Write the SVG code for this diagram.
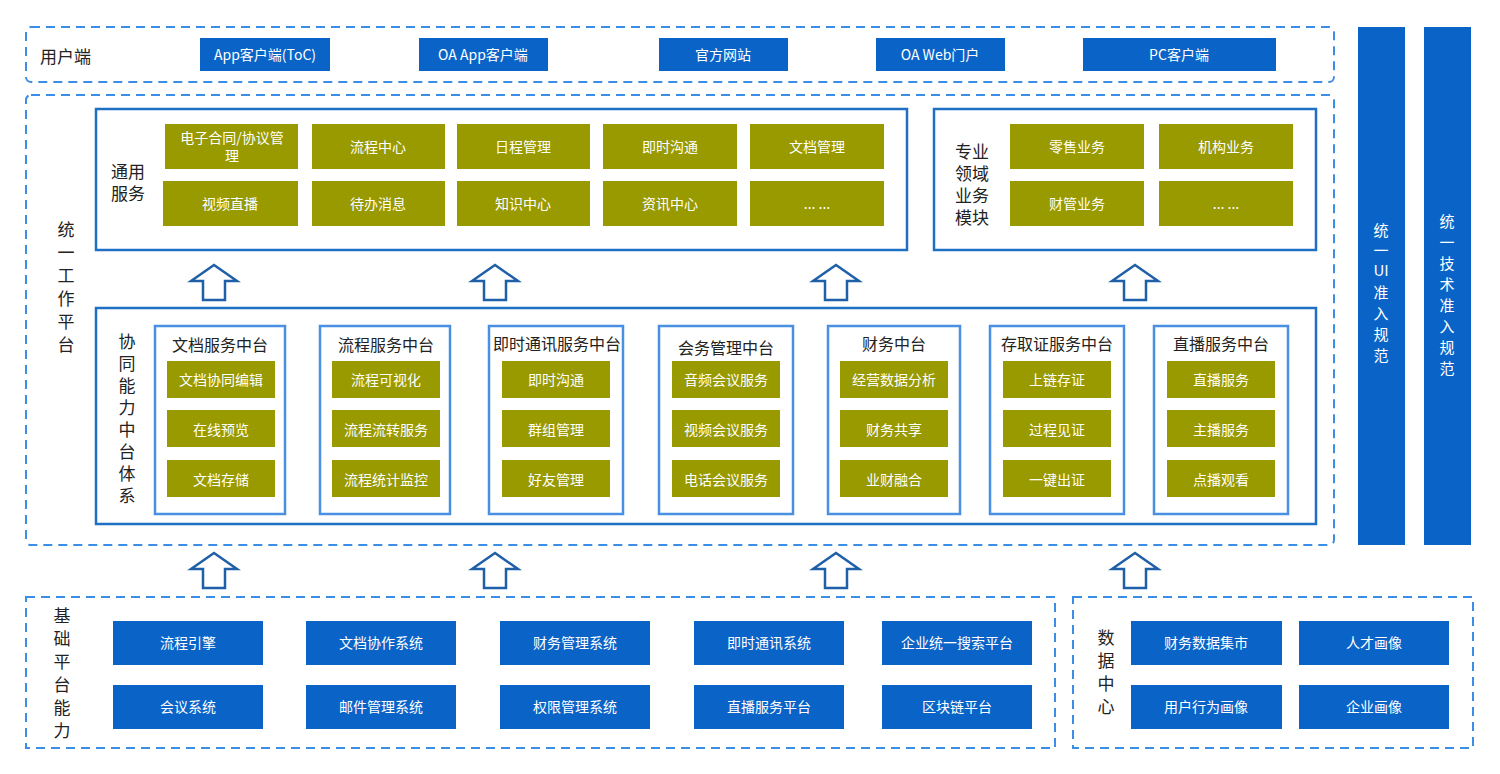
<svg xmlns="http://www.w3.org/2000/svg" width="1500" height="774" viewBox="0 0 1500 774">
<defs><style>
text{font-family:"Noto Sans CJK SC","Noto Sans",sans-serif}
.dash{fill:#fff;stroke:#3a8ee6;stroke-width:2;stroke-dasharray:9 6}
.frame{fill:#fff;stroke:#1f6fc4;stroke-width:2.5}
.sub{fill:#fff;stroke:#4a90e2;stroke-width:2.5}
.bl{fill:#0a64c8}
.ol{fill:#999900}
.wt{fill:#fff;font-size:14px;text-anchor:middle}
.lb{fill:#222;font-size:17px}
.lbm{fill:#222;font-size:17px;text-anchor:middle}
.st{fill:#222;font-size:16px;text-anchor:middle}
.vt{fill:#fff;font-size:15px;text-anchor:middle}
.arr{fill:#fff;stroke:#1f5fa8;stroke-width:2.5}
</style>
<path id="ar" class="arr" d="M-23,16 L0,0 L23,16 L11,16 L11,35 L-11,35 L-11,16 Z"/>
</defs>
<rect width="1500" height="774" fill="#fff"/>
<g id="user">
<rect class="dash" x="26" y="27" width="1308" height="55" rx="5"/>
<text class="lb" x="40" y="63">用户端</text>
<rect class="bl" x="200" y="38" width="130" height="33"/><text class="wt" x="265" y="60">App客户端(ToC)</text>
<rect class="bl" x="419" y="38" width="129" height="33"/><text class="wt" x="483" y="60">OA App客户端</text>
<rect class="bl" x="659" y="38" width="129" height="33"/><text class="wt" x="723" y="60">官方网站</text>
<rect class="bl" x="876" y="38" width="129" height="33"/><text class="wt" x="940" y="60">OA Web门户</text>
<rect class="bl" x="1083" y="38" width="193" height="33"/><text class="wt" x="1179" y="60">PC客户端</text>
</g>
<g id="platform">
<rect class="dash" x="26" y="95" width="1308" height="450" rx="5"/>
<text class="lbm" x="66" y="236">统</text><text class="lbm" x="66" y="259">一</text><text class="lbm" x="66" y="282">工</text><text class="lbm" x="66" y="305">作</text><text class="lbm" x="66" y="328">平</text><text class="lbm" x="66" y="351">台</text>
</g>
<g id="general">
<rect class="frame" x="96" y="109" width="811" height="141"/>
<text class="lb" x="111" y="178">通用</text><text class="lb" x="111" y="200">服务</text>
<rect class="ol" x="165" y="124" width="133" height="45"/><text class="wt" x="232" y="143">电子合同/协议管</text><text class="wt" x="232" y="161">理</text>
<rect class="ol" x="312" y="124" width="133" height="45"/><text class="wt" x="378" y="152">流程中心</text>
<rect class="ol" x="457" y="124" width="133" height="45"/><text class="wt" x="523" y="152">日程管理</text>
<rect class="ol" x="603" y="124" width="134" height="45"/><text class="wt" x="670" y="152">即时沟通</text>
<rect class="ol" x="750" y="124" width="134" height="45"/><text class="wt" x="817" y="152">文档管理</text>
<rect class="ol" x="163" y="181" width="135" height="45"/><text class="wt" x="230" y="209">视频直播</text>
<rect class="ol" x="312" y="181" width="133" height="45"/><text class="wt" x="378" y="209">待办消息</text>
<rect class="ol" x="457" y="181" width="133" height="45"/><text class="wt" x="523" y="209">知识中心</text>
<rect class="ol" x="603" y="181" width="134" height="45"/><text class="wt" x="670" y="209">资讯中心</text>
<rect class="ol" x="750" y="181" width="134" height="45"/><text class="wt" x="817" y="209">... ...</text>
</g>
<g id="special">
<rect class="frame" x="934" y="109" width="382" height="141"/>
<text class="lbm" x="972" y="158">专业</text><text class="lbm" x="972" y="180">领域</text><text class="lbm" x="972" y="202">业务</text><text class="lbm" x="972" y="224">模块</text>
<rect class="ol" x="1010" y="124" width="134" height="45"/><text class="wt" x="1077" y="152">零售业务</text>
<rect class="ol" x="1159" y="124" width="134" height="45"/><text class="wt" x="1226" y="152">机构业务</text>
<rect class="ol" x="1010" y="181" width="134" height="45"/><text class="wt" x="1077" y="209">财管业务</text>
<rect class="ol" x="1159" y="181" width="134" height="45"/><text class="wt" x="1226" y="209">... ...</text>
</g>
<g id="connectors">
<use href="#ar" x="214" y="265"/><use href="#ar" x="495" y="265"/><use href="#ar" x="836" y="265"/><use href="#ar" x="1135" y="265"/>
<use href="#ar" x="214" y="553"/><use href="#ar" x="495" y="553"/><use href="#ar" x="836" y="553"/><use href="#ar" x="1135" y="553"/>
</g>
<g id="middle">
<rect class="frame" x="96" y="308" width="1220" height="216"/>
<text class="lbm" x="127" y="348">协</text><text class="lbm" x="127" y="370">同</text><text class="lbm" x="127" y="392">能</text><text class="lbm" x="127" y="414">力</text><text class="lbm" x="127" y="436">中</text><text class="lbm" x="127" y="458">台</text><text class="lbm" x="127" y="480">体</text><text class="lbm" x="127" y="502">系</text>
</g>
<g id="m1"><rect class="sub" x="155" y="326" width="130" height="188"/><text class="st" x="220" y="351">文档服务中台</text>
<rect class="ol" x="167" y="361" width="108" height="37"/><text class="wt" x="221" y="385">文档协同编辑</text>
<rect class="ol" x="167" y="410" width="108" height="37"/><text class="wt" x="221" y="435">在线预览</text>
<rect class="ol" x="167" y="460" width="108" height="37"/><text class="wt" x="221" y="485">文档存储</text></g>
<g id="m2"><rect class="sub" x="320" y="326" width="130" height="188"/><text class="st" x="386" y="351">流程服务中台</text>
<rect class="ol" x="332" y="361" width="108" height="37"/><text class="wt" x="386" y="385">流程可视化</text>
<rect class="ol" x="332" y="410" width="108" height="37"/><text class="wt" x="386" y="435">流程流转服务</text>
<rect class="ol" x="332" y="460" width="108" height="37"/><text class="wt" x="386" y="485">流程统计监控</text></g>
<g id="m3"><rect class="sub" x="489" y="326" width="134" height="188"/><text class="st" x="557" y="350">即时通讯服务中台</text>
<rect class="ol" x="502" y="361" width="108" height="37"/><text class="wt" x="556" y="385">即时沟通</text>
<rect class="ol" x="502" y="410" width="108" height="37"/><text class="wt" x="556" y="435">群组管理</text>
<rect class="ol" x="502" y="460" width="108" height="37"/><text class="wt" x="556" y="485">好友管理</text></g>
<g id="m4"><rect class="sub" x="659" y="326" width="134" height="188"/><text class="st" x="726" y="354">会务管理中台</text>
<rect class="ol" x="672" y="361" width="108" height="37"/><text class="wt" x="726" y="385">音频会议服务</text>
<rect class="ol" x="672" y="410" width="108" height="37"/><text class="wt" x="726" y="435">视频会议服务</text>
<rect class="ol" x="672" y="460" width="108" height="37"/><text class="wt" x="726" y="485">电话会议服务</text></g>
<g id="m5"><rect class="sub" x="828" y="326" width="132" height="188"/><text class="st" x="894" y="350">财务中台</text>
<rect class="ol" x="840" y="361" width="108" height="37"/><text class="wt" x="894" y="385">经营数据分析</text>
<rect class="ol" x="840" y="410" width="108" height="37"/><text class="wt" x="894" y="435">财务共享</text>
<rect class="ol" x="840" y="460" width="108" height="37"/><text class="wt" x="894" y="485">业财融合</text></g>
<g id="m6"><rect class="sub" x="990" y="326" width="134" height="188"/><text class="st" x="1057" y="350">存取证服务中台</text>
<rect class="ol" x="1003" y="361" width="108" height="37"/><text class="wt" x="1057" y="385">上链存证</text>
<rect class="ol" x="1003" y="410" width="108" height="37"/><text class="wt" x="1057" y="435">过程见证</text>
<rect class="ol" x="1003" y="460" width="108" height="37"/><text class="wt" x="1057" y="485">一键出证</text></g>
<g id="m7"><rect class="sub" x="1154" y="326" width="134" height="188"/><text class="st" x="1221" y="350">直播服务中台</text>
<rect class="ol" x="1167" y="361" width="108" height="37"/><text class="wt" x="1221" y="385">直播服务</text>
<rect class="ol" x="1167" y="410" width="108" height="37"/><text class="wt" x="1221" y="435">主播服务</text>
<rect class="ol" x="1167" y="460" width="108" height="37"/><text class="wt" x="1221" y="485">点播观看</text></g>
<g id="base">
<rect class="dash" x="26" y="597" width="1029" height="151"/>
<text class="lbm" x="62" y="622">基</text><text class="lbm" x="62" y="645">础</text><text class="lbm" x="62" y="668">平</text><text class="lbm" x="62" y="691">台</text><text class="lbm" x="62" y="714">能</text><text class="lbm" x="62" y="737">力</text>
<rect class="bl" x="113" y="621" width="150" height="44"/><text class="wt" x="188" y="648">流程引擎</text>
<rect class="bl" x="306" y="621" width="150" height="44"/><text class="wt" x="381" y="648">文档协作系统</text>
<rect class="bl" x="500" y="621" width="150" height="44"/><text class="wt" x="575" y="648">财务管理系统</text>
<rect class="bl" x="694" y="621" width="150" height="44"/><text class="wt" x="769" y="648">即时通讯系统</text>
<rect class="bl" x="882" y="621" width="150" height="44"/><text class="wt" x="957" y="648">企业统一搜索平台</text>
<rect class="bl" x="113" y="685" width="150" height="44"/><text class="wt" x="188" y="712">会议系统</text>
<rect class="bl" x="306" y="685" width="150" height="44"/><text class="wt" x="381" y="712">邮件管理系统</text>
<rect class="bl" x="500" y="685" width="150" height="44"/><text class="wt" x="575" y="712">权限管理系统</text>
<rect class="bl" x="694" y="685" width="150" height="44"/><text class="wt" x="769" y="712">直播服务平台</text>
<rect class="bl" x="882" y="685" width="150" height="44"/><text class="wt" x="957" y="712">区块链平台</text>
</g>
<g id="data">
<rect class="dash" x="1073" y="597" width="400" height="151"/>
<text class="lbm" x="1106" y="644">数</text><text class="lbm" x="1106" y="667">据</text><text class="lbm" x="1106" y="690">中</text><text class="lbm" x="1106" y="713">心</text>
<rect class="bl" x="1131" y="621" width="151" height="44"/><text class="wt" x="1206" y="648">财务数据集市</text>
<rect class="bl" x="1299" y="621" width="150" height="44"/><text class="wt" x="1374" y="648">人才画像</text>
<rect class="bl" x="1131" y="685" width="151" height="44"/><text class="wt" x="1206" y="712">用户行为画像</text>
<rect class="bl" x="1299" y="685" width="150" height="44"/><text class="wt" x="1374" y="712">企业画像</text>
</g>
<g id="ui">
<rect class="bl" x="1358" y="27" width="47" height="518"/>
<text class="vt" x="1381" y="236">统</text><text class="vt" x="1381" y="256">一</text><text class="vt" x="1381" y="276">UI</text><text class="vt" x="1381" y="298">准</text><text class="vt" x="1381" y="319">入</text><text class="vt" x="1381" y="340">规</text><text class="vt" x="1381" y="361">范</text>
</g>
<g id="tech">
<rect class="bl" x="1424" y="27" width="47" height="518"/>
<text class="vt" x="1447" y="227">统</text><text class="vt" x="1447" y="248">一</text><text class="vt" x="1447" y="269">技</text><text class="vt" x="1447" y="290">术</text><text class="vt" x="1447" y="311">准</text><text class="vt" x="1447" y="332">入</text><text class="vt" x="1447" y="353">规</text><text class="vt" x="1447" y="374">范</text>
</g>
</svg>
